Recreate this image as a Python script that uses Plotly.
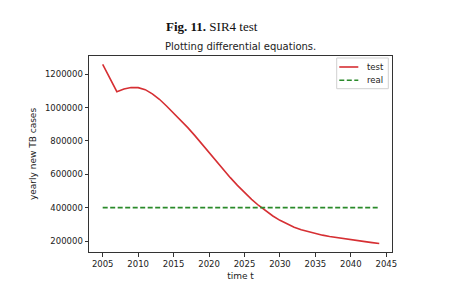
import plotly.graph_objects as go

years = list(range(2005, 2045))
test_values = [
    1260000, 1178000, 1096000, 1112000, 1121000, 1120000, 1108000, 1083000,
    1050000, 1010000, 968000, 924000, 880000, 832000, 782000, 728000,
    676000, 626000, 580000, 534000, 490000, 450000, 413000, 380000,
    350000, 324000, 302000, 283000, 268000, 256000, 245000, 235000,
    227000, 220000, 214000, 208000, 202000, 196000, 190000, 185000,
]
real_value = 400000
real_values = [real_value] * len(years)

x_ticks = [2005, 2010, 2015, 2020, 2025, 2030, 2035, 2040, 2045]
y_ticks = [200000, 400000, 600000, 800000, 1000000, 1200000]

series_names = ["test", "real"]
series_colors = ["#d62f33", "#2a8a2a"]
series_dash = ["solid", "5px,2.5px"]

fig = go.Figure()
fig.add_trace(go.Scatter(x=years, y=test_values, mode="lines", name=series_names[0],
                         showlegend=False,
                         line=dict(color=series_colors[0], width=1.6, dash=series_dash[0])))
fig.add_trace(go.Scatter(x=years, y=real_values, mode="lines", name=series_names[1],
                         showlegend=False,
                         line=dict(color=series_colors[1], width=1.6, dash=series_dash[1])))

axis_common = dict(showline=True, mirror=True, linecolor="#333333", linewidth=1,
                   ticks="outside", ticklen=3.5, tickcolor="#333333", showgrid=False,
                   zeroline=False, tickfont=dict(family="DejaVu Sans", size=8.5, color="#222222"))

# compact matplotlib-style legend (paper coordinates)
shapes = [dict(type="rect", xref="paper", yref="paper", x0=0.8175, x1=0.9878, y0=0.8332, y1=0.9898,
               line=dict(color="#d0d0d0", width=1), fillcolor="rgba(255,255,255,0.9)", layer="above")]
annotations = []
legend_rows_y = [0.9439, 0.876]
for name, color, dash, ly in zip(series_names, series_colors, series_dash, legend_rows_y):
    shapes.append(dict(type="line", xref="paper", yref="paper", x0=0.826, x1=0.8888, y0=ly, y1=ly,
                       line=dict(color=color, width=1.6, dash=dash), layer="above"))
    annotations.append(dict(text=name, xref="paper", yref="paper", x=0.912, y=ly,
                            xanchor="left", yanchor="middle", showarrow=False,
                            font=dict(family="DejaVu Sans", size=8.5, color="#222222")))

annotations += [
    dict(text="<b>Fig. 11.</b> SIR4 test", xref="paper", yref="paper", x=0.406, y=1.153,
         xanchor="center", yanchor="middle", showarrow=False,
         font=dict(family="Liberation Serif", size=13, color="#111111")),
    dict(text="Plotting differential equations.", xref="paper", yref="paper", x=0.5, y=1.048,
         xanchor="center", yanchor="middle", showarrow=False,
         font=dict(family="DejaVu Sans", size=10, color="#222222")),
]

fig.update_layout(
    width=474, height=305,
    margin=dict(l=89, r=82, t=56, b=53),
    paper_bgcolor="white", plot_bgcolor="white",
    font=dict(family="DejaVu Sans", size=9, color="#222222"),
    xaxis=dict(range=[2003.07, 2045.8], tickvals=x_ticks, ticktext=[str(v) for v in x_ticks],
               title=dict(text="time t", font=dict(size=9), standoff=4), **axis_common),
    yaxis=dict(range=[134000, 1309700], tickvals=y_ticks, ticktext=[str(v) for v in y_ticks],
               title=dict(text="yearly new TB cases", font=dict(size=9), standoff=6), **axis_common),
    showlegend=False,
    shapes=shapes,
    annotations=annotations,
)

fig.write_html("out.html")
